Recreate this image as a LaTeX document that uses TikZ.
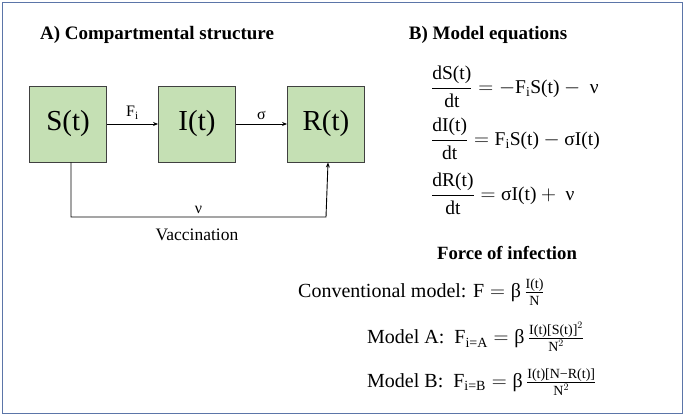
\documentclass[tikz,border=0pt]{standalone}
\usepackage{amsmath}
\usepackage{fontspec}
\setmainfont{Liberation Serif}
\usepackage{xcolor}
\usetikzlibrary{arrows.meta,positioning}
\definecolor{boxgreen}{HTML}{C5E0B4}
\definecolor{frameblue}{HTML}{5B75A8}
\newcommand{\tx}[1]{\text{#1}}

\begin{document}
\begin{tikzpicture}[x=1pt,y=-1pt,
    comp/.style={draw=black!75,fill=boxgreen,line width=0.9pt,minimum width=77pt,minimum height=76pt,inner sep=0pt,font=\fontsize{29}{32}\selectfont},
    flow/.style={-{Stealth[length=5pt,width=4pt]},line width=0.9pt},
    rate/.style={font=\fontsize{16}{18}\selectfont},
    heading/.style={font=\bfseries\fontsize{19}{22}\selectfont},
    eqn/.style={anchor=west,inner sep=0pt,font=\fontsize{19.5}{22}\selectfont},
    foi/.style={anchor=west,inner sep=0pt,font=\fontsize{20}{23}\selectfont}]
    \draw[frameblue,line width=1.5pt] (2.5,2.5) rectangle (682.5,413.5);
    \useasboundingbox (0,0) rectangle (685,416);
    % compartments
    \node[heading] (titleA) at (157,35) {A) Compartmental structure};
    \node[comp] (S) at (68,124) {S(t)};
    \node[comp] (I) at (197,124) {I(t)};
    \node[comp] (R) at (326,124) {R(t)};
    \draw[flow] (S) -- node[rate,above=1pt] {F\textsubscript{i}} (I);
    \draw[flow] (I) -- node[rate,above=1pt] {σ} (R);
    \coordinate (vbend) at (71,217);
    \draw[flow] (S.south -| vbend) -- (vbend) -- node[rate,above=0pt] (nu) {ν} (vbend -| R.south) -- ([xshift=2pt]R.south);
    \node[font=\fontsize{17.5}{20}\selectfont] (vacc) at (197,235) {Vaccination};
    % equations
    \node[heading] (titleB) at (488,35) {B) Model equations};
    \node[eqn] (eqS) at (431,87) {$\dfrac{\tx{dS(t)}}{\tx{dt}} = -\tx{F}_{\tx{i}}\tx{S(t)} -\ \tx{ν}$};
    \node[eqn] (eqI) at (431,139) {$\dfrac{\tx{dI(t)}}{\tx{dt}} = \tx{F}_{\tx{i}}\tx{S(t)} - \tx{σI(t)}$};
    \node[eqn] (eqR) at (431,194) {$\dfrac{\tx{dR(t)}}{\tx{dt}} = \tx{σI(t)} +\ \tx{ν}$};
    % force of infection
    \node[heading,font=\bfseries\fontsize{18.7}{21}\selectfont] (titleF) at (507,253) {Force of infection};
    \node[foi] (conv) at (298,292) {Conventional model: $\tx{F} = \tx{β}\,\frac{\tx{I(t)}}{\tx{N}}$};
    \node[foi] (modA) at (367,337) {Model A:\ \ $\tx{F}_{\tx{i=A}} = \tx{β}\,\frac{\tx{I(t)[S(t)]}^{2}}{\tx{N}^{2}}$};
    \node[foi] (modB) at (367,382) {Model B:\ \ $\tx{F}_{\tx{i=B}} = \tx{β}\,\frac{\tx{I(t)[N−R(t)]}}{\tx{N}^{2}}$};
\end{tikzpicture}
\end{document}
